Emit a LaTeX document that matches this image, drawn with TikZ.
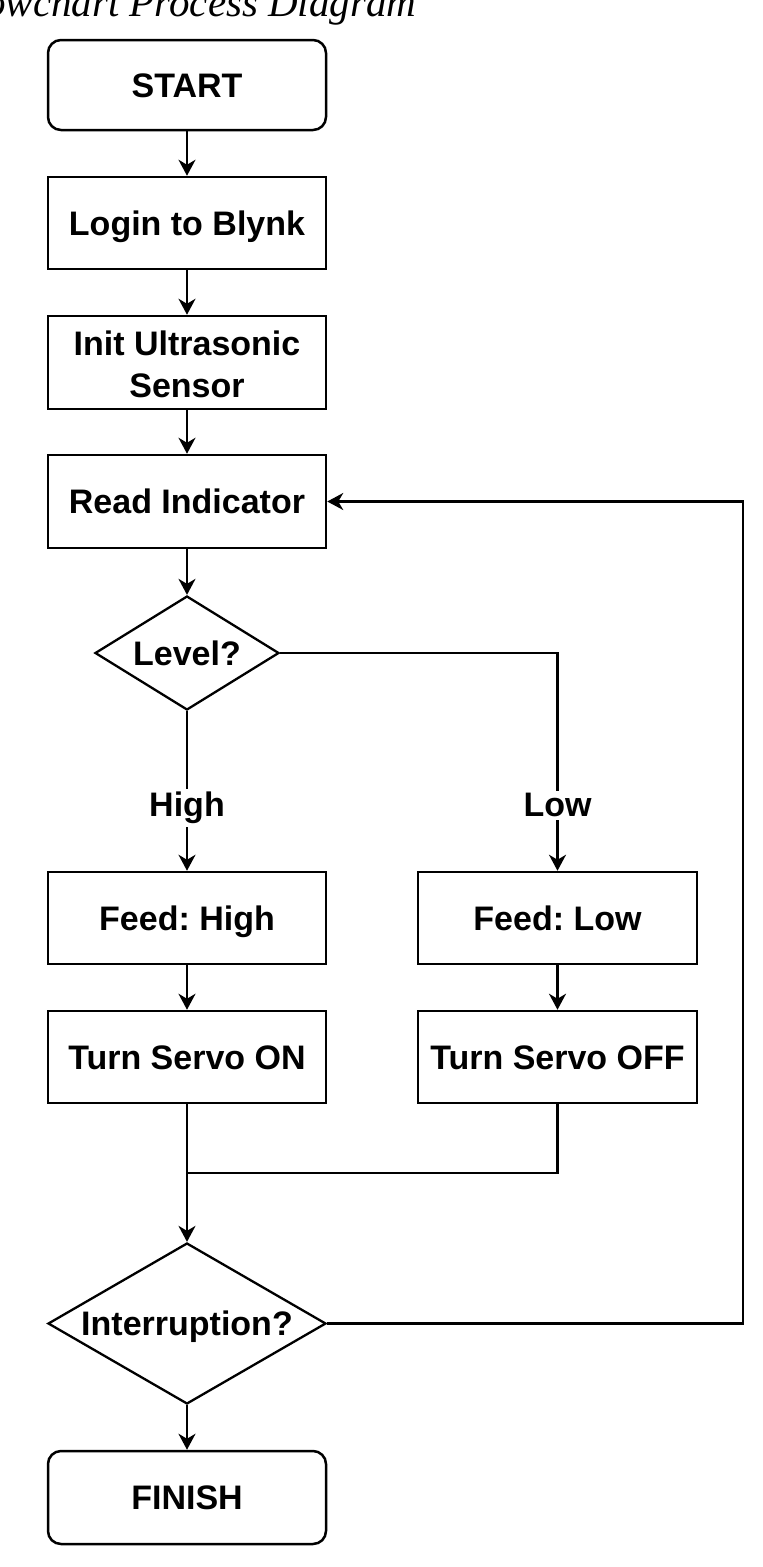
\documentclass[tikz,border=0pt]{standalone}
\usepackage{fontspec}
\setmainfont{Liberation Sans}
\newfontfamily\titlefont{Liberation Serif}
\usetikzlibrary{shapes.geometric,arrows.meta}
\frenchspacing
\begin{document}
\begin{tikzpicture}[x=1pt,y=-1pt,
  every node/.style={font=\fontsize{34}{42}\selectfont\bfseries},
  oneline/.style={text height=24.4pt, text depth=0pt},
  proc/.style={draw, line width=2.5pt, minimum width=278pt, minimum height=92pt, inner sep=0pt, align=center},
  term/.style={proc, oneline, rounded corners=13pt},
  dec/.style={draw, diamond, oneline, line width=2.3pt, inner sep=0pt},
  conn/.style={line width=2.3pt, -{Stealth[length=16pt,width=17pt,inset=5pt]}},
  plain/.style={line width=2.3pt},
  lbl/.style={fill=white, inner sep=3pt}
]
\clip (0,0) rectangle (763,1567);
\fill[white] (0,0) rectangle (763,1567);
\node[anchor=base east, font=\titlefont\itshape\fontsize{41}{41}\selectfont] (title) at (420,16) {Flowchart Process Diagram};

\node[term, minimum height=90pt] (start) at (187,85) {START};
\node[proc, oneline] (login) at (187,223) {Login to Blynk};
\node[proc, minimum height=93pt] (init) at (187,362.5) {\rule{0pt}{28pt}Init Ultrasonic\\Sensor};
\node[proc, oneline, minimum height=93pt] (read) at (187,501.5) {Read Indicator};
\node[dec, aspect=1.614, minimum width=184pt, minimum height=114pt] (level) at (187,653) {Level?};
\node[proc, oneline] (fhigh) at (187,918) {Feed: High};
\node[proc, oneline, minimum width=279pt] (flow) at (557.5,918) {Feed: Low};
\node[proc, oneline] (son) at (187,1057) {Turn Servo ON};
\node[proc, oneline, minimum width=279pt] (soff) at (557.5,1057) {Turn Servo OFF};
\node[dec, aspect=1.727, minimum width=278pt, minimum height=161pt] (intr) at (187,1323.5) {Interruption?};
\node[term, minimum height=93pt] (finish) at (187,1497.5) {FINISH};
\coordinate (merge) at (187,1173);
\coordinate (ret) at (743,1323.5);

\draw[conn] (start) -- (login);
\draw[conn] (login) -- (init);
\draw[conn] (init) -- (read);
\draw[conn] (read) -- (level);
\draw[conn] (level.south) -- node[lbl, pos=0.605] {High} (fhigh.north);
\draw[conn] (level.east) -| node[lbl, pos=0.85] {Low} (flow.north);
\draw[conn] (fhigh) -- (son);
\draw[conn] (flow) -- (soff);
\draw[conn] (son) -- (intr);
\draw[plain] (soff.south) |- (merge);
\draw[conn] (intr.east) -- (ret) |- (read.east);
\draw[conn] (intr) -- (finish);
\end{tikzpicture}
\end{document}
